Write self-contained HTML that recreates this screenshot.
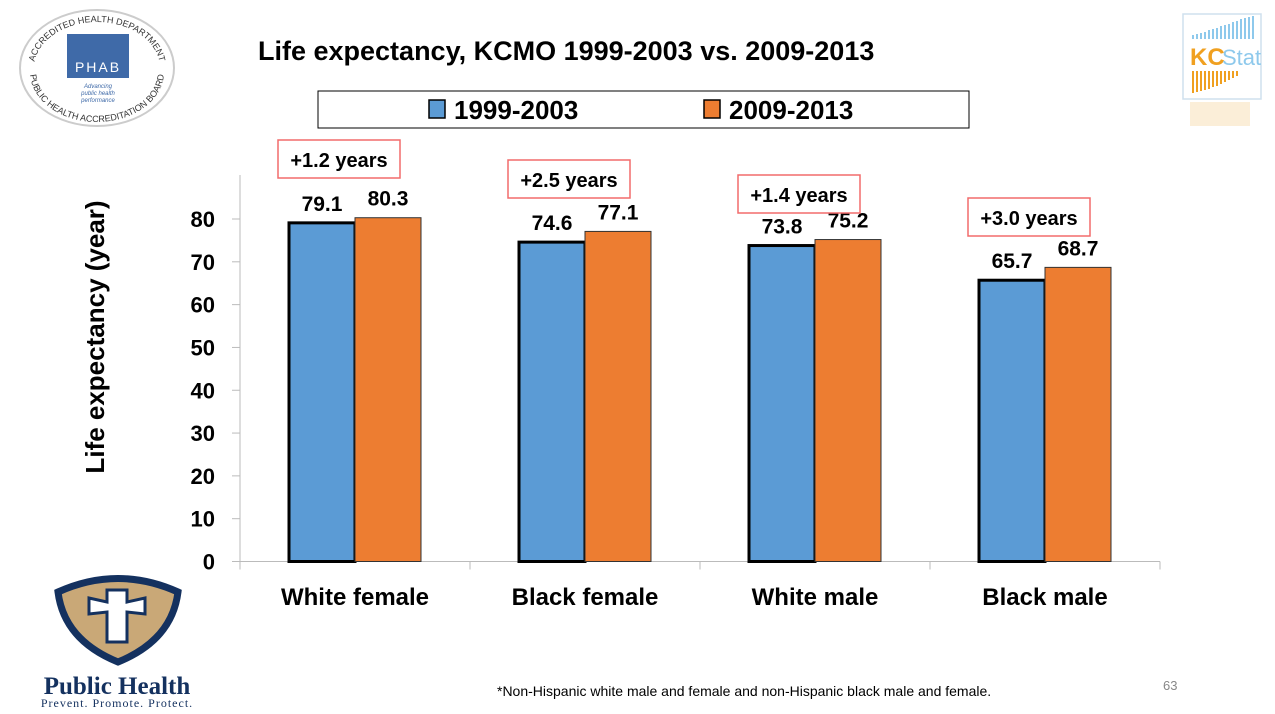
<!DOCTYPE html>
<html><head><meta charset="utf-8">
<style>
body{margin:0;background:#fff;width:1275px;height:714px;overflow:hidden;font-family:"Liberation Sans",Arial,sans-serif;}
svg{display:block}
</style></head>
<body>
<svg width="1275" height="714" viewBox="0 0 1275 714">
  <!-- PHAB logo -->
  <g>
    <ellipse cx="97" cy="68" rx="77" ry="58" fill="#fff" stroke="#ccc" stroke-width="2"/>
    <rect x="67" y="34" width="62" height="44" fill="#3f6aa8"/>
    <text x="98" y="72" font-size="14" fill="#fff" text-anchor="middle" letter-spacing="2">PHAB</text>
    <text x="98" y="88" font-size="6" fill="#3f6aa8" text-anchor="middle" font-style="italic">Advancing</text>
    <text x="98" y="95" font-size="6" fill="#3f6aa8" text-anchor="middle" font-style="italic">public health</text>
    <text x="98" y="102" font-size="6" fill="#3f6aa8" text-anchor="middle" font-style="italic">performance</text>
    <path id="arcTop" d="M34,68 A63,46 0 0 1 160,68" fill="none"/>
    <text font-size="9" fill="#333"><textPath href="#arcTop" startOffset="50%" text-anchor="middle">ACCREDITED HEALTH DEPARTMENT</textPath></text>
    <path id="arcBot" d="M30,72 A67,50 0 0 0 164,72" fill="none"/>
    <text font-size="9" fill="#333"><textPath href="#arcBot" startOffset="50%" text-anchor="middle">PUBLIC HEALTH ACCREDITATION BOARD</textPath></text>
  </g>
  <!-- KCStat logo -->
  <g>
    <rect x="1183" y="14" width="78" height="85" fill="#fff" stroke="#cfe0ee" stroke-width="1.5"/>
    <g fill="#8ec9ec">
      <rect x="1192" y="35" width="2" height="4"/><rect x="1196" y="34" width="2" height="5"/><rect x="1200" y="33" width="2" height="6"/><rect x="1204" y="32" width="2" height="7"/><rect x="1208" y="30" width="2" height="9"/><rect x="1212" y="29" width="2" height="10"/><rect x="1216" y="28" width="2" height="11"/><rect x="1220" y="26" width="2" height="13"/><rect x="1224" y="25" width="2" height="14"/><rect x="1228" y="24" width="2" height="15"/><rect x="1232" y="22" width="2" height="17"/><rect x="1236" y="21" width="2" height="18"/><rect x="1240" y="19" width="2" height="20"/><rect x="1244" y="18" width="2" height="21"/><rect x="1248" y="17" width="2" height="22"/><rect x="1252" y="16" width="2" height="23"/>
    </g>
    <text x="1190" y="65" font-size="24" fill="#f0a020" font-weight="bold">KC</text>
    <text x="1222" y="65" font-size="22" fill="#8ec9ec">Stat</text>
    <g fill="#f0a020">
      <rect x="1192" y="71" width="2" height="22"/><rect x="1196" y="71" width="2" height="21"/><rect x="1200" y="71" width="2" height="20"/><rect x="1204" y="71" width="2" height="19"/><rect x="1208" y="71" width="2" height="18"/><rect x="1212" y="71" width="2" height="16"/><rect x="1216" y="71" width="2" height="15"/><rect x="1220" y="71" width="2" height="13"/><rect x="1224" y="71" width="2" height="11"/><rect x="1228" y="71" width="2" height="9"/><rect x="1232" y="71" width="2" height="7"/><rect x="1236" y="71" width="2" height="5"/>
    </g>
    <rect x="1190" y="102" width="60" height="24" fill="#f6d9a8" opacity="0.45"/>
  </g>
  <!-- Public Health logo -->
  <g>
    <path d="M58,592 Q118,565 178,592 Q172,640 118,662 Q64,640 58,592 Z" fill="#c9a877" stroke="#14315f" stroke-width="7"/>
    <path d="M107,590 h20 v12 l18,-4 v16 l-18,-2 v30 h-20 v-30 l-18,2 v-16 l18,4 Z" fill="#fff" stroke="#14315f" stroke-width="3"/>
    <text x="117" y="694" font-size="25" fill="#14315f" text-anchor="middle" font-family="Liberation Serif,serif" font-weight="bold">Public Health</text>
    <text x="117" y="707" font-size="12" fill="#14315f" text-anchor="middle" font-family="Liberation Serif,serif" letter-spacing="1">Prevent. Promote. Protect.</text>
  </g>
  <text x="258" y="60" font-size="27" font-weight="bold" fill="#000">Life expectancy, KCMO 1999-2003 vs. 2009-2013</text>
  <!-- legend -->
  <g>
    <rect x="318" y="91" width="651" height="37" fill="#fff" stroke="#000" stroke-width="1"/>
    <g>
      <rect x="429" y="100" width="16" height="18" fill="#5b9bd5" stroke="#000" stroke-width="1.5"/>
      <text x="454" y="119" font-size="26" font-weight="bold">1999-2003</text>
    </g>
    <g>
      <rect x="704" y="100" width="16" height="18" fill="#ed7d31" stroke="#000" stroke-width="1.5"/>
      <text x="729" y="119" font-size="26" font-weight="bold">2009-2013</text>
    </g>
  </g>
  <text transform="translate(104,337) rotate(-90)" font-size="26" font-weight="bold" text-anchor="middle">Life expectancy (year)</text>
  <g id="chart"></g>
  <text x="497" y="696" font-size="14" fill="#000">*Non-Hispanic white male and female and non-Hispanic black male and female.</text>
  <text x="1163" y="690" font-size="13" fill="#888">63</text>
</svg>
<script>
const categories = ["White female","Black female","White male","Black male"];
const series1999 = [79.1, 74.6, 73.8, 65.7];
const series2009 = [80.3, 77.1, 75.2, 68.7];
const yTicks = [0,10,20,30,40,50,60,70,80];
const annotTops = [140, 160, 175, 198];

const NS = "http://www.w3.org/2000/svg";
const g = document.getElementById('chart');
const x0 = 240, x1 = 1160, yBase = 561.5, yTop80 = 219;
const yScale = v => yBase - v * (yBase - yTop80) / 80;
const bandW = (x1 - x0) / categories.length;
const xBand = i => x0 + i * bandW;
function mk(tag, attrs){ const e = document.createElementNS(NS, tag); for (const k in attrs) e.setAttribute(k, attrs[k]); g.appendChild(e); return e; }

// axes
let ax = mk('line',{x1:x0,y1:175,x2:x0,y2:yBase,stroke:'#bbb','stroke-width':1});


let bx = mk('line',{x1:x0-8,y1:yBase,x2:x1,y2:yBase,stroke:'#bbb','stroke-width':1});


yTicks.forEach(t => {
  const y = yScale(t);
  const tk = mk('line',{x1:x0-8,y1:y,x2:x0,y2:y,stroke:'#bbb'});
  
  
  const tl = mk('text',{x:x0-25,y:y+8,'font-size':22,'font-weight':'bold','text-anchor':'end'});
  tl.textContent = t;
  
  
});
for (let i = 0; i <= categories.length; i++) {
  const x = xBand(i);
  const tk = mk('line',{x1:x,y1:yBase,x2:x,y2:yBase+8,stroke:'#bbb'});
  
  
}
const bw = 66;
categories.forEach((c, i) => {
  const cx = xBand(i) + bandW / 2;
  const a = series1999[i], b = series2009[i];
  const r1 = mk('rect',{x:cx-bw,y:yScale(a),width:bw,height:yBase-yScale(a),fill:'#5b9bd5',stroke:'#000','stroke-width':3});
  
  
  const r2 = mk('rect',{x:cx,y:yScale(b),width:bw,height:yBase-yScale(b),fill:'#ed7d31',stroke:'#333','stroke-width':1});
  
  
  const l1 = mk('text',{x:cx-bw/2,y:yScale(a)-12,'font-size':21,'font-weight':'bold','text-anchor':'middle'});
  l1.textContent = a.toFixed(1);
  
  
  const l2 = mk('text',{x:cx+bw/2,y:yScale(b)-12,'font-size':21,'font-weight':'bold','text-anchor':'middle'});
  l2.textContent = b.toFixed(1);
  
  
  const cl = mk('text',{x:cx,y:605,'font-size':24,'font-weight':'bold','text-anchor':'middle'});
  cl.textContent = c;
  
  
  const top = annotTops[i];
  const bxr = mk('rect',{x:cx-77,y:top,width:122,height:38,fill:'#fff',stroke:'#f26b6b','stroke-width':1.5});
  
  
  const at = mk('text',{x:cx-16,y:top+27,'font-size':20,'font-weight':'bold','text-anchor':'middle'});
  at.textContent = '+' + (b - a).toFixed(1) + ' years';
  
  
});
</script>
</body></html>
